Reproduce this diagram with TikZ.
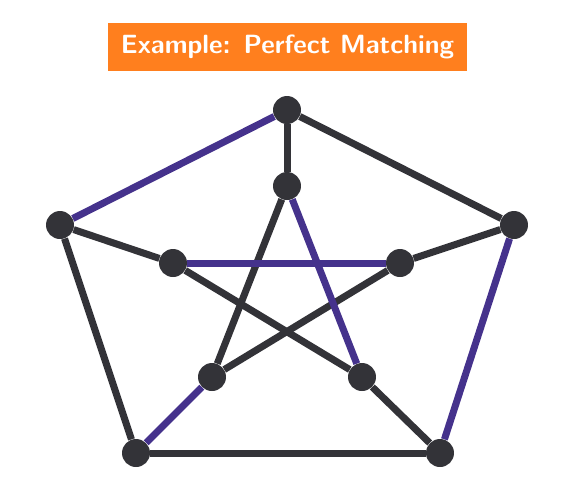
\documentclass[tikz,border=0pt]{standalone}
\usepackage{tikz}
\usetikzlibrary{positioning}
\definecolor{titleorange}{HTML}{FF7F1E}
\definecolor{nodegray}{HTML}{333338}
\definecolor{matchpurple}{HTML}{45328C}
\tikzset{
    vtx/.style     = {circle, fill=nodegray, inner sep=0pt, minimum size=0.56cm},
    edge/.style    = {line width=0.14cm, nodegray},
    matched/.style = {line width=0.14cm, matchpurple},
    titlebox/.style= {fill=titleorange, text=white, font=\sffamily\bfseries\fontsize{15}{18}\selectfont,
                      minimum width=7.18cm, minimum height=0.96cm, inner sep=0pt},
}
\begin{document}
\begin{tikzpicture}[x=0.02cm, y=-0.02cm]
    \useasboundingbox (0,0) rectangle (562,488);
    % titel
    \node[titlebox] (title) at (287.5,47) {Example: Perfect Matching};
    % buitenste vijfhoek
    \node[vtx] (o1) at (287,110) {};
    \node[vtx] (o2) at (514,225) {};
    \node[vtx] (o3) at (440,453) {};
    \node[vtx] (o4) at (136,453) {};
    \node[vtx] (o5) at (60,225) {};
    % binnenste ster
    \node[vtx] (i1) at (287,186) {};
    \node[vtx] (i2) at (400,263) {};
    \node[vtx] (i3) at (362,377) {};
    \node[vtx] (i4) at (212,377) {};
    \node[vtx] (i5) at (173,263) {};
    % gewone kanten
    \draw[edge] (o1) -- (o2);
    \draw[edge] (o3) -- (o4);
    \draw[edge] (o4) -- (o5);
    \draw[edge] (o1) -- (i1);
    \draw[edge] (o2) -- (i2);
    \draw[edge] (o3) -- (i3);
    \draw[edge] (o5) -- (i5);
    \draw[edge] (i1) -- (i4);
    \draw[edge] (i2) -- (i4);
    \draw[edge] (i5) -- (i3);
    % perfecte matching
    \draw[matched] (o1) -- (o5);
    \draw[matched] (o2) -- (o3);
    \draw[matched] (i5) -- (i2);
    \draw[matched] (i1) -- (i3);
    \draw[matched] (i4) -- (o4);
\end{tikzpicture}
\end{document}
